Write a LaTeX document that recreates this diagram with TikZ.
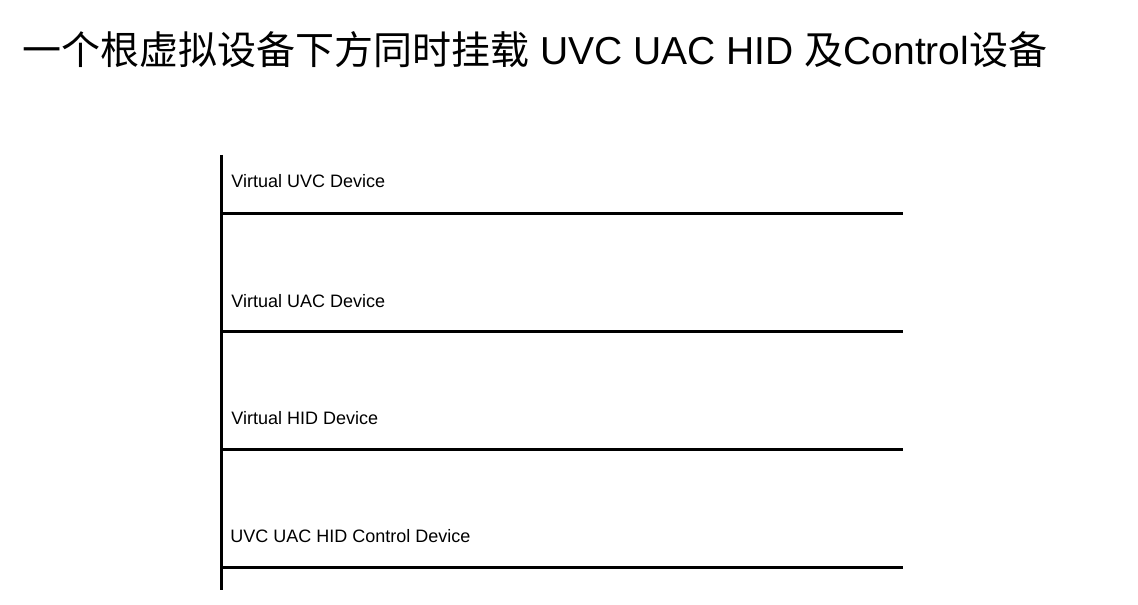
\documentclass[tikz,border=0pt]{standalone}
\usepackage{fontspec}
\setmainfont{Liberation Sans}
\newfontfamily\cjk{Noto Sans CJK SC}
\usetikzlibrary{positioning}

\tikzset{
    bar/.style={line width=1.5pt, black},
    devlabel/.style={anchor=base west, inner sep=0pt, font=\fontsize{9pt}{11pt}\selectfont},
    titletext/.style={anchor=base west, inner sep=0pt, font=\fontsize{19.5pt}{23pt}\selectfont}
}

\begin{document}
\begin{tikzpicture}[x=0.5pt, y=-0.5pt]
    \useasboundingbox (0,0) rectangle (1138,604);
    % title
    \node[titletext] (title) at (22,65) {{\cjk 一个根虚拟设备下方同时挂载} UVC UAC HID {\cjk 及}Control{\cjk 设备}};
    % root line
    \coordinate (roottop) at (221,155);
    \coordinate (rootbot) at (221,590);
    \draw[bar] (roottop) -- (rootbot);
    % devices
    \node[devlabel] (uvc) at (231,188) {Virtual UVC Device};
    \node[devlabel] (uac) at (231,307) {Virtual UAC Device};
    \node[devlabel] (hid) at (231,424) {Virtual HID Device};
    \node[devlabel] (ctrl) at (230,542) {UVC UAC HID Control Device};
    \foreach \name/\y in {uvc/213, uac/331, hid/449, ctrl/567} {
        \coordinate (\name l) at (221,\y);
        \coordinate (\name r) at (903,\y);
        \draw[bar] (\name l) -- (\name r);
    }
\end{tikzpicture}
\end{document}
